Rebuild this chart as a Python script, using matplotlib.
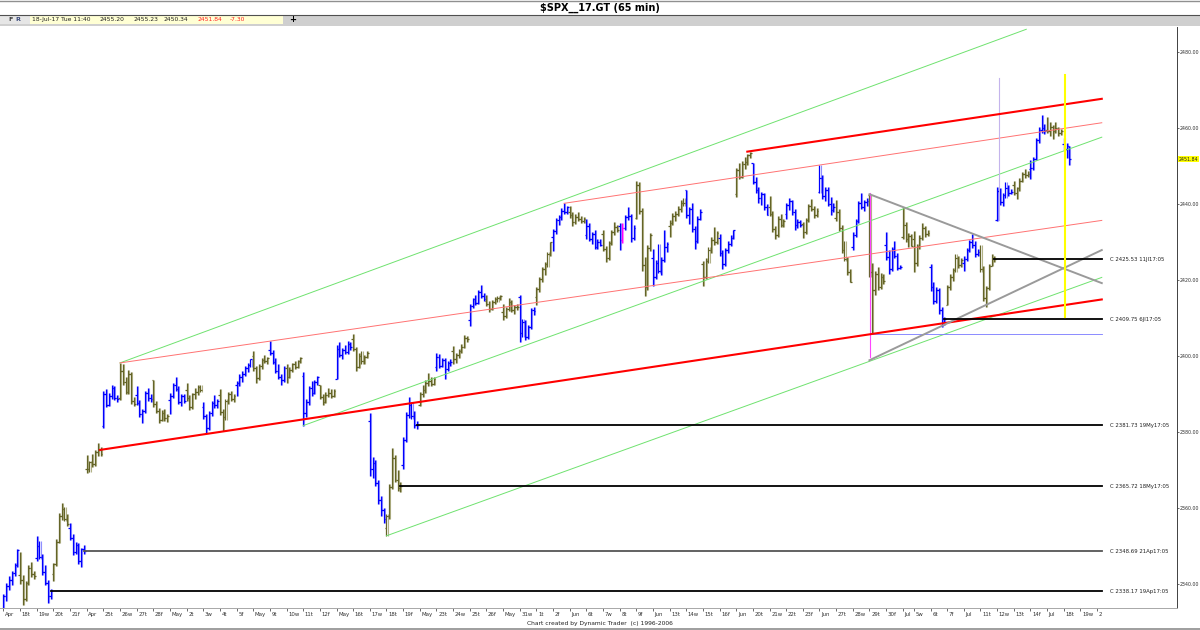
import numpy as np
import pandas as pd
import matplotlib
matplotlib.use('Agg')
import matplotlib.pyplot as plt
from matplotlib.collections import LineCollection
from matplotlib.patches import Rectangle
from matplotlib.lines import Line2D
import matplotlib.transforms as mtransforms

plt.rcParams['font.family'] = ['DejaVu Sans']

# trading days on the chart (65 min bars), market holidays removed
days = pd.bdate_range('2017-04-17', '2017-07-18')
days = days.drop(pd.to_datetime(['2017-05-29', '2017-07-04']))

# first open of each day
day_open = [2332.6, 2342.5, 2346.8, 2342.7, 2354.7, 2370.3, 2381.5, 2389.0, 2389.7, 2393.7,
            2388.5, 2391.1, 2386.5, 2389.8, 2392.4, 2399.9, 2401.6, 2396.8, 2394.8, 2392.4,
            2394.0, 2404.6, 2383.0, 2354.7, 2371.4, 2387.2, 2397.0, 2401.4, 2409.5, 2414.5,
            2411.7, 2415.6, 2415.6, 2431.3, 2437.8, 2431.9, 2432.0, 2434.3, 2436.4, 2425.9,
            2434.2, 2443.8, 2424.1, 2431.2, 2442.6, 2450.7, 2439.3, 2437.4, 2434.7, 2443.3,
            2436.3, 2428.7, 2442.4, 2429.2, 2431.4, 2430.8, 2423.4, 2413.5, 2424.5, 2427.35,
            2435.8, 2445.0, 2449.1, 2459.5, 2455.9]

# bar highs, one row per day
bar_high = [
    [2337.5, 2340.2, 2342.0, 2343.5, 2345.6, 2349.1],
    [2348.4, 2342.3, 2340.8, 2344.9, 2345.8, 2343.5],
    [2352.6, 2351.3, 2348.0, 2345.0, 2341.2, 2338.8],
    [2345.6, 2351.8, 2358.6, 2361.4, 2360.3, 2358.4],
    [2356.2, 2353.1, 2351.2, 2350.9, 2349.6, 2350.2],
    [2373.9, 2372.5, 2374.1, 2375.2, 2377.0, 2376.1],
    [2390.8, 2391.4, 2390.3, 2392.5, 2392.1, 2389.8],
    [2398.2, 2397.8, 2394.6, 2396.3, 2395.9, 2389.2],
    [2392.1, 2388.4, 2386.1, 2390.8, 2391.6, 2390.0],
    [2393.7, 2388.1, 2386.4, 2385.9, 2386.0, 2384.8],
    [2390.2, 2393.0, 2394.5, 2392.0, 2390.1, 2390.0],
    [2392.9, 2389.7, 2390.4, 2391.5, 2392.3, 2392.4],
    [2388.0, 2384.8, 2385.5, 2388.3, 2389.8, 2388.7],
    [2391.4, 2386.0, 2388.8, 2390.6, 2390.8, 2390.1],
    [2393.5, 2395.2, 2396.0, 2397.4, 2398.1, 2399.3],
    [2401.4, 2397.5, 2397.9, 2399.6, 2400.3, 2399.8],
    [2403.9, 2401.7, 2399.4, 2397.8, 2395.3, 2397.5],
    [2398.0, 2397.0, 2398.3, 2398.6, 2399.0, 2399.7],
    [2395.7, 2388.6, 2392.2, 2393.4, 2393.8, 2394.8],
    [2392.4, 2390.1, 2390.5, 2391.6, 2391.3, 2391.4],
    [2402.8, 2403.6, 2402.1, 2402.9, 2404.0, 2403.8],
    [2405.8, 2402.5, 2400.8, 2401.4, 2400.2, 2401.3],
    [2384.9, 2373.5, 2372.6, 2367.4, 2363.1, 2360.0],
    [2358.5, 2366.4, 2375.7, 2374.0, 2369.9, 2366.8],
    [2378.6, 2385.2, 2389.1, 2388.0, 2385.6, 2383.0],
    [2390.6, 2392.3, 2393.7, 2395.5, 2394.6, 2394.4],
    [2400.9, 2400.5, 2399.6, 2399.4, 2398.8, 2399.2],
    [2402.6, 2400.8, 2401.9, 2403.1, 2405.6, 2405.2],
    [2413.8, 2415.4, 2416.1, 2417.3, 2418.7, 2416.6],
    [2416.0, 2414.4, 2414.8, 2415.6, 2415.9, 2416.0],
    [2413.8, 2412.9, 2415.3, 2414.8, 2413.5, 2413.6],
    [2416.0, 2409.8, 2409.6, 2408.2, 2412.6, 2412.9],
    [2418.2, 2420.9, 2423.5, 2424.7, 2427.4, 2430.1],
    [2433.5, 2436.4, 2437.2, 2438.9, 2440.2, 2439.5],
    [2439.6, 2437.8, 2437.3, 2437.9, 2436.9, 2436.5],
    [2436.2, 2434.9, 2432.6, 2433.1, 2430.7, 2430.9],
    [2433.2, 2429.0, 2430.4, 2433.1, 2435.3, 2434.5],
    [2435.1, 2434.9, 2437.2, 2439.3, 2437.4, 2434.4],
    [2446.2, 2445.8, 2439.0, 2426.2, 2429.3, 2432.4],
    [2428.2, 2425.3, 2429.4, 2426.0, 2433.2, 2430.1],
    [2435.8, 2437.6, 2438.2, 2439.4, 2441.0, 2441.5],
    [2443.8, 2439.3, 2440.2, 2434.1, 2436.9, 2438.6],
    [2425.0, 2425.8, 2428.6, 2431.3, 2434.0, 2432.9],
    [2432.0, 2427.9, 2428.5, 2430.4, 2431.8, 2433.2],
    [2449.6, 2450.8, 2451.3, 2452.4, 2453.2, 2453.8],
    [2450.7, 2447.1, 2444.6, 2443.3, 2443.0, 2439.9],
    [2442.2, 2438.3, 2434.2, 2436.8, 2437.5, 2436.1],
    [2440.3, 2441.6, 2441.2, 2438.8, 2436.0, 2435.9],
    [2435.3, 2436.4, 2440.1, 2441.4, 2439.6, 2438.9],
    [2450.4, 2447.6, 2444.5, 2444.6, 2441.8, 2440.2],
    [2441.0, 2438.6, 2434.5, 2430.3, 2426.2, 2423.0],
    [2432.6, 2436.2, 2440.8, 2443.0, 2441.2, 2441.6],
    [2442.4, 2424.6, 2422.5, 2423.4, 2421.9, 2421.5],
    [2432.7, 2427.8, 2428.8, 2430.3, 2427.1, 2424.0],
    [2439.2, 2435.3, 2432.4, 2432.0],
    [2432.9, 2429.6, 2431.8, 2434.9, 2434.3, 2433.1],
    [2424.3, 2419.5, 2418.3, 2418.0, 2412.9, 2410.4],
    [2418.7, 2421.6, 2423.2, 2426.9, 2426.3, 2425.7],
    [2426.3, 2428.4, 2430.6, 2432.0, 2430.4, 2428.2],
    [2429.3, 2423.6, 2418.4, 2424.2, 2426.8, 2426.4],
    [2444.6, 2444.1, 2443.0, 2445.8, 2444.9, 2443.9],
    [2446.2, 2444.6, 2446.8, 2448.5, 2449.3, 2448.6],
    [2451.6, 2452.3, 2457.4, 2460.2, 2463.5, 2461.2],
    [2462.8, 2461.5, 2460.9, 2461.7, 2460.4, 2459.8],
    [2457.3, 2456.2, 2455.23],
]

bar_low = [
    [2332.5, 2335.5, 2338.4, 2339.8, 2342.1, 2344.6],
    [2340.1, 2334.5, 2335.6, 2339.7, 2341.9, 2341.3],
    [2346.0, 2346.5, 2342.4, 2339.8, 2335.1, 2336.0],
    [2340.9, 2344.8, 2350.7, 2356.9, 2356.5, 2355.2],
    [2351.5, 2347.6, 2347.8, 2345.3, 2344.5, 2347.9],
    [2369.2, 2369.5, 2370.8, 2371.0, 2373.6, 2373.8],
    [2381.2, 2386.5, 2386.8, 2388.7, 2388.4, 2387.9],
    [2388.5, 2392.4, 2389.9, 2390.0, 2387.3, 2386.8],
    [2387.0, 2384.0, 2382.4, 2385.0, 2388.3, 2388.0],
    [2386.5, 2384.9, 2382.4, 2382.8, 2382.9, 2382.6],
    [2384.8, 2389.0, 2390.8, 2387.4, 2386.9, 2387.6],
    [2388.2, 2385.8, 2386.1, 2388.8, 2389.7, 2390.5],
    [2383.5, 2379.8, 2380.6, 2384.2, 2386.3, 2386.4],
    [2384.6, 2380.4, 2383.2, 2387.5, 2388.1, 2388.0],
    [2389.4, 2392.1, 2393.2, 2394.8, 2395.8, 2397.0],
    [2396.2, 2393.0, 2393.8, 2396.7, 2398.1, 2398.0],
    [2400.2, 2397.8, 2395.6, 2394.0, 2392.4, 2393.2],
    [2392.8, 2394.1, 2395.9, 2396.6, 2396.8, 2398.2],
    [2381.7, 2384.0, 2387.2, 2389.6, 2389.9, 2392.4],
    [2388.6, 2387.2, 2387.6, 2389.2, 2388.9, 2389.1],
    [2393.9, 2399.8, 2399.2, 2400.6, 2400.5, 2401.7],
    [2401.3, 2396.1, 2396.8, 2398.0, 2397.9, 2399.4],
    [2368.4, 2368.0, 2365.9, 2361.2, 2357.8, 2356.2],
    [2352.7, 2357.2, 2365.0, 2366.8, 2364.6, 2364.1],
    [2370.4, 2377.5, 2383.8, 2383.5, 2381.0, 2380.8],
    [2386.9, 2389.1, 2390.4, 2392.1, 2392.0, 2392.3],
    [2396.2, 2396.9, 2397.0, 2393.9, 2396.0, 2397.5],
    [2398.0, 2398.3, 2399.5, 2400.9, 2402.0, 2403.6],
    [2408.0, 2412.6, 2413.4, 2413.6, 2415.2, 2414.5],
    [2413.1, 2411.7, 2412.0, 2413.7, 2414.2, 2414.8],
    [2409.4, 2410.0, 2411.9, 2411.6, 2411.2, 2412.1],
    [2403.6, 2405.1, 2404.3, 2404.4, 2407.1, 2410.8],
    [2413.5, 2416.8, 2419.6, 2421.3, 2423.5, 2426.4],
    [2427.7, 2432.2, 2434.6, 2435.9, 2437.4, 2437.3],
    [2436.4, 2434.3, 2434.8, 2435.5, 2434.9, 2435.0],
    [2430.8, 2430.2, 2429.5, 2428.1, 2428.3, 2428.9],
    [2427.6, 2424.8, 2425.4, 2429.3, 2431.9, 2432.6],
    [2427.9, 2429.8, 2433.1, 2435.8, 2430.0, 2430.6],
    [2436.0, 2437.5, 2422.4, 2415.7, 2417.5, 2427.6],
    [2418.5, 2420.2, 2421.8, 2421.3, 2424.8, 2427.4],
    [2431.3, 2434.5, 2435.6, 2436.8, 2437.9, 2439.6],
    [2436.4, 2434.8, 2432.6, 2428.3, 2429.8, 2435.7],
    [2418.5, 2420.2, 2424.4, 2427.2, 2429.3, 2429.6],
    [2426.4, 2422.9, 2423.7, 2427.0, 2429.0, 2430.7],
    [2441.8, 2446.5, 2446.8, 2449.1, 2450.4, 2452.1],
    [2445.2, 2443.0, 2440.2, 2439.8, 2438.4, 2437.0],
    [2436.9, 2432.6, 2430.7, 2431.4, 2433.9, 2434.0],
    [2436.1, 2438.5, 2437.2, 2433.3, 2433.8, 2434.0],
    [2431.1, 2432.0, 2435.2, 2438.2, 2436.3, 2436.6],
    [2442.8, 2441.3, 2440.8, 2439.5, 2437.0, 2437.8],
    [2435.6, 2433.0, 2427.2, 2424.9, 2421.4, 2419.4],
    [2428.0, 2431.3, 2434.9, 2438.6, 2438.1, 2439.6],
    [2420.8, 2405.7, 2416.2, 2417.4, 2417.6, 2418.9],
    [2425.4, 2421.6, 2422.3, 2425.7, 2422.6, 2422.8],
    [2430.8, 2430.1, 2428.7, 2428.9],
    [2422.0, 2423.8, 2428.2, 2430.6, 2431.4, 2431.5],
    [2417.2, 2413.6, 2413.9, 2411.2, 2407.7, 2408.1],
    [2413.5, 2417.4, 2419.8, 2422.0, 2423.1, 2423.4],
    [2422.3, 2425.0, 2427.3, 2428.5, 2426.1, 2426.3],
    [2422.1, 2414.6, 2412.8, 2417.5, 2423.6, 2424.8],
    [2435.6, 2439.7, 2439.4, 2441.6, 2442.1, 2442.6],
    [2442.5, 2441.4, 2443.4, 2445.8, 2446.9, 2447.2],
    [2446.7, 2448.9, 2451.6, 2456.0, 2458.8, 2458.4],
    [2458.6, 2457.9, 2457.2, 2458.8, 2458.0, 2458.1],
    [2453.9, 2452.2, 2450.34],
]

bar_close = [
    [2336.8, 2339.6, 2341.2, 2342.9, 2345.0, 2349.0],
    [2341.0, 2336.2, 2340.3, 2344.2, 2342.6, 2342.2],
    [2350.1, 2347.2, 2343.1, 2340.4, 2336.9, 2338.17],
    [2345.2, 2351.2, 2358.0, 2359.8, 2357.1, 2355.8],
    [2352.0, 2348.5, 2350.4, 2346.0, 2349.1, 2348.69],
    [2370.4, 2372.0, 2371.5, 2374.8, 2375.3, 2374.2],
    [2389.9, 2387.2, 2389.5, 2391.6, 2389.0, 2388.6],
    [2396.0, 2393.1, 2390.5, 2395.2, 2388.1, 2387.5],
    [2387.6, 2384.8, 2385.5, 2390.2, 2389.0, 2388.8],
    [2387.3, 2385.6, 2383.3, 2385.1, 2383.6, 2384.2],
    [2389.6, 2392.4, 2391.3, 2388.0, 2389.5, 2388.3],
    [2388.9, 2386.6, 2389.9, 2390.6, 2391.8, 2391.2],
    [2384.1, 2381.2, 2384.9, 2387.6, 2387.0, 2388.1],
    [2385.2, 2383.9, 2388.2, 2389.9, 2388.6, 2389.5],
    [2392.9, 2394.6, 2395.3, 2396.9, 2397.6, 2399.3],
    [2396.8, 2394.2, 2397.3, 2399.0, 2398.6, 2399.4],
    [2400.9, 2398.5, 2396.2, 2394.6, 2393.8, 2396.9],
    [2394.5, 2396.4, 2397.8, 2397.1, 2398.7, 2399.6],
    [2385.1, 2387.9, 2391.5, 2390.3, 2393.1, 2394.4],
    [2389.3, 2388.0, 2389.8, 2390.4, 2389.6, 2390.9],
    [2401.9, 2400.4, 2401.5, 2401.0, 2403.2, 2402.3],
    [2401.9, 2397.2, 2400.1, 2398.6, 2399.8, 2400.7],
    [2370.2, 2371.8, 2366.7, 2362.0, 2359.4, 2357.0],
    [2357.9, 2365.6, 2373.1, 2367.5, 2365.2, 2365.72],
    [2378.0, 2384.6, 2387.2, 2384.1, 2381.9, 2381.73],
    [2389.9, 2391.0, 2392.9, 2393.4, 2392.6, 2394.0],
    [2399.8, 2397.5, 2398.9, 2396.6, 2398.1, 2398.4],
    [2399.1, 2400.2, 2401.4, 2402.5, 2404.8, 2404.4],
    [2413.2, 2414.9, 2414.0, 2416.8, 2415.9, 2415.1],
    [2413.6, 2412.5, 2414.3, 2414.9, 2415.2, 2415.8],
    [2410.6, 2412.4, 2414.2, 2412.1, 2413.0, 2412.9],
    [2406.2, 2408.9, 2405.0, 2407.6, 2412.0, 2411.8],
    [2417.6, 2420.2, 2422.8, 2424.1, 2426.9, 2430.1],
    [2432.9, 2435.8, 2436.5, 2438.3, 2438.0, 2439.1],
    [2437.0, 2435.2, 2436.7, 2436.0, 2435.6, 2436.1],
    [2434.1, 2430.8, 2432.0, 2428.8, 2430.1, 2429.3],
    [2428.3, 2425.9, 2429.8, 2432.6, 2433.9, 2433.1],
    [2430.6, 2433.7, 2436.6, 2436.9, 2431.2, 2433.8],
    [2445.1, 2438.2, 2424.0, 2418.1, 2428.5, 2431.8],
    [2420.9, 2424.6, 2422.5, 2425.4, 2428.6, 2429.4],
    [2435.1, 2436.9, 2437.5, 2438.7, 2440.2, 2440.4],
    [2437.1, 2438.6, 2433.4, 2430.2, 2436.2, 2437.9],
    [2420.7, 2425.1, 2427.9, 2430.6, 2430.1, 2432.5],
    [2427.1, 2424.3, 2427.8, 2429.6, 2431.2, 2433.2],
    [2448.9, 2447.2, 2450.6, 2451.0, 2452.8, 2453.5],
    [2445.9, 2443.8, 2441.5, 2442.6, 2439.1, 2437.0],
    [2437.5, 2433.4, 2431.9, 2436.2, 2434.6, 2435.6],
    [2439.7, 2440.8, 2437.9, 2434.6, 2435.2, 2434.5],
    [2432.6, 2435.9, 2439.4, 2438.8, 2437.1, 2438.3],
    [2446.9, 2442.0, 2443.7, 2440.1, 2438.4, 2439.1],
    [2437.9, 2433.8, 2428.0, 2425.6, 2422.1, 2419.4],
    [2431.9, 2435.5, 2440.2, 2439.3, 2440.5, 2440.7],
    [2422.1, 2417.3, 2421.6, 2418.2, 2420.8, 2419.7],
    [2426.1, 2422.9, 2428.1, 2426.4, 2423.2, 2423.4],
    [2434.6, 2430.9, 2431.5, 2429.0],
    [2424.4, 2428.9, 2431.2, 2433.8, 2432.0, 2432.5],
    [2418.1, 2414.4, 2417.5, 2412.0, 2408.6, 2409.75],
    [2418.1, 2420.9, 2422.6, 2425.8, 2423.9, 2425.2],
    [2425.6, 2427.9, 2430.1, 2429.2, 2426.8, 2427.4],
    [2422.8, 2415.2, 2417.9, 2423.6, 2425.9, 2425.53],
    [2443.5, 2440.6, 2442.4, 2444.2, 2442.9, 2443.25],
    [2443.0, 2444.1, 2446.2, 2447.9, 2447.6, 2447.8],
    [2449.4, 2451.9, 2456.8, 2459.5, 2459.9, 2459.3],
    [2459.3, 2460.4, 2459.2, 2460.1, 2458.6, 2459.14],
    [2454.5, 2455.2, 2451.84],
]

highlight_day = '2017-06-08'
highlight_bar = 1

# drawn lines, (bar index, price) pairs
green_lines = [[(42, 2398.2), (368.5, 2486.0)],
               [(108, 2381.7), (395.7, 2457.6)],
               [(138, 2352.7), (395.7, 2420.7)]]
thin_red_lines = [[(42, 2398.2), (395.7, 2435.7)],
                  [(202, 2440.2), (395.7, 2461.4)]]
thick_red_lines = [[(34.8, 2375.3), (395.7, 2414.9)],
                   [(268, 2453.8), (395.7, 2467.7)]]
gray_lines = [[(312, 2442.6), (395.7, 2419.2)],
              [(312, 2398.9), (395.7, 2427.9)]]
blue_level = [(313, 2405.8), (395.7, 2405.8)]
pink_vline = [(312.3, 2443.0), (312.3, 2399.7)]
lavender_vline = [(358.5, 2473.2), (358.5, 2435.8)]
yellow_vline = [(382.5, 2474.0), (382.5, 2410.3)]

close_levels = [2425.53, 2409.75, 2381.73, 2365.72, 2348.69, 2338.17]
close_dates = ['2017-07-11', '2017-07-06', '2017-05-19', '2017-05-18', '2017-04-21', '2017-04-19']
close_texts = ['C 2425.53 11Jl17:05', 'C 2409.75 6Jl17:05', 'C 2381.73 19My17:05',
               'C 2365.72 18My17:05', 'C 2348.69 21Ap17:05', 'C 2338.17 19Ap17:05']
close_colors = ['black', 'black', 'black', 'black', '#555555', 'black']
line_end = 395.7

y_ticks = [2340, 2360, 2380, 2400, 2420, 2440, 2460, 2480]
last_price = 2451.84
future_ticks = [388, 394]
future_labels = ['19w', '2']

title = '$SPX__17.GT (65 min)'
info_date = '18-Jul-17 Tue 11:40'
info_vals = ['2455.20', '2455.23', '2450.34']
info_last = ['2451.84', '-7.30']

# ---- flatten bars
opens, highs, lows, closes, cols = [], [], [], [], []
day_first, day_last = {}, {}
k = 0
for i, d in enumerate(days):
    day_first[d.strftime('%Y-%m-%d')] = k
    prev = day_open[i]
    even = np.busday_count(np.datetime64('2017-04-17'), np.datetime64(d.date())) % 2 == 0
    for j in range(len(bar_close[i])):
        opens.append(prev)
        highs.append(bar_high[i][j])
        lows.append(bar_low[i][j])
        closes.append(bar_close[i][j])
        prev = bar_close[i][j]
        if d.strftime('%Y-%m-%d') == highlight_day and j == highlight_bar:
            cols.append('m')
        elif even:
            cols.append('b')
        else:
            cols.append('o')
        k += 1
    day_last[d.strftime('%Y-%m-%d')] = k - 1

dark = {'b': '#0000ff', 'o': '#646428', 'm': '#ff00ff'}
light = {'b': '#9090ff', 'o': '#b2b288', 'm': '#ff99ff'}

fig = plt.figure(figsize=(12, 6.3), dpi=100)
ax = fig.add_axes([0, 1 - 608 / 630, 1177 / 1200, (608 - 27) / 630])
ax.set_xlim(-1.23, 422.8)
ax.set_ylim(2333.7, 2486.6)

tw = 0.6
segs_d, segs_l, cd, cl = [], [], [], []
for i in range(len(closes)):
    x = i
    segs_l.append([(x + 0.38, lows[i]), (x + 0.38, highs[i])])
    cl.append(light[cols[i]])
    segs_d.append([(x, lows[i]), (x, highs[i])])
    segs_d.append([(x - tw, opens[i]), (x, opens[i])])
    segs_d.append([(x, closes[i]), (x + tw, closes[i])])
    cd += [dark[cols[i]]] * 3
ax.add_collection(LineCollection(segs_l, colors=cl, linewidths=0.8, zorder=2))
ax.add_collection(LineCollection(segs_d, colors=cd, linewidths=0.9, zorder=3))

for ln in green_lines:
    ax.plot(*zip(*ln), color='#6fe26f', lw=0.7, zorder=4)
for ln in thin_red_lines:
    ax.plot(*zip(*ln), color='#ff7272', lw=0.7, zorder=4)
for ln in thick_red_lines:
    ax.plot(*zip(*ln), color='#ff0000', lw=1.5, zorder=5)
for ln in gray_lines:
    ax.plot(*zip(*ln), color='#9a9a9a', lw=1.4, zorder=5)
ax.plot(*zip(*blue_level), color='#7878ff', lw=0.6, zorder=4)
ax.plot(*zip(*pink_vline), color='#ff44ff', lw=0.8, zorder=4)
ax.plot(*zip(*lavender_vline), color='#c4b4ec', lw=0.8, zorder=4)
ax.plot(*zip(*yellow_vline), color='#ffff00', lw=1.5, zorder=6)

for lev, dt, txt, cc in zip(close_levels, close_dates, close_texts, close_colors):
    ax.plot([day_last[dt], line_end], [lev, lev], color=cc, lw=1.3, zorder=5)
    ax.text(line_end + 2.9, lev, txt, fontsize=3.9, va='center', ha='left', color='#202020')

# axes look
for s in ['top', 'left']:
    ax.spines[s].set_visible(False)
ax.spines['right'].set_color('#404040')
ax.spines['right'].set_linewidth(0.7)
ax.spines['bottom'].set_color('#a8a8a8')
ax.spines['bottom'].set_linewidth(0.7)

ax.yaxis.tick_right()
ax.set_yticks(y_ticks)
ax.set_yticklabels(['%.2f' % v for v in y_ticks])
ax.tick_params(axis='y', direction='out', length=1.5, width=0.5, pad=0.6, labelsize=3.4,
               colors='#303030')

tick_pos, tick_lab = [], []
prev_week = None
for d in days:
    ds = d.strftime('%Y-%m-%d')
    wk = d.isocalendar()[1]
    tick_pos.append(day_first[ds])
    if wk != prev_week:
        tick_lab.append(d.strftime('%b'))
    else:
        tick_lab.append('%d%s' % (d.day, 'mtwtf'[d.weekday()]))
    prev_week = wk
ax.set_xticks(tick_pos + future_ticks)
ax.set_xticklabels(tick_lab + future_labels)
ax.tick_params(axis='x', direction='out', length=2.2, width=0.5, pad=0.8, labelsize=3.9,
               colors='#303030')
off = mtransforms.ScaledTranslation(1.2 / 72, 0, fig.dpi_scale_trans)
for lbl in ax.get_xticklabels():
    lbl.set_ha('left')
    lbl.set_transform(lbl.get_transform() + off)

# last price flag
ytr = mtransforms.blended_transform_factory(ax.transAxes, ax.transData)
ax.text(1.0 + 2 / 1177, last_price, '%.2f' % last_price, transform=ytr, fontsize=3.4,
        va='center', ha='left', color='#202020', clip_on=False,
        bbox=dict(facecolor='#ffff00', edgecolor='none', pad=0.5))

# header
H = 630.0
def fy(p):
    return 1 - p / H

fig.add_artist(Line2D([0, 1], [fy(0.5), fy(0.5)], color='#909090', lw=1))
fig.text(0.5, fy(8), title, ha='center', va='center', fontsize=7, fontweight='bold')
fig.add_artist(Rectangle((0, fy(26)), 1, 11 / H, facecolor='#cfcfcf', edgecolor='none'))
fig.add_artist(Line2D([0, 1], [fy(15), fy(15)], color='#505050', lw=0.8))
fig.add_artist(Rectangle((30 / 1200, fy(24)), 253 / 1200, 9 / H, facecolor='#ffffd4',
                         edgecolor='none'))
fig.add_artist(Rectangle((0, fy(24)), 30 / 1200, 9 / H, facecolor='#e6e6e6',
                         edgecolor='none'))
fig.text(8 / 1200, fy(19.5), 'F', fontsize=4.6, va='center', color='#404040', fontweight='bold')
fig.text(15 / 1200, fy(19.5), 'R', fontsize=4.6, va='center', color='#3c4c7c', fontweight='bold')
fig.text(32 / 1200, fy(19.5), info_date, fontsize=4.3, va='center', color='#202020')
for xp, v in zip([100, 133, 163], info_vals):
    fig.text(xp / 1200, fy(19.5), v, fontsize=4.3, va='center', color='#202020')
for xp, v in zip([198, 230], info_last):
    fig.text(xp / 1200, fy(19.5), v, fontsize=4.3, va='center', color='#ff2020')
fig.text(293 / 1200, fy(19.5), '+', fontsize=6, va='center', ha='center', fontweight='bold')

# footer
fig.text(600 / 1200, fy(624), 'Chart created by Dynamic Trader  (c) 1996-2006', fontsize=4.3,
         ha='center', va='center', color='#202020')
fig.add_artist(Rectangle((0, 0), 1, 2.5 / H, facecolor='#a0a0a0', edgecolor='none'))

fig.savefig('out.png', dpi=100)
